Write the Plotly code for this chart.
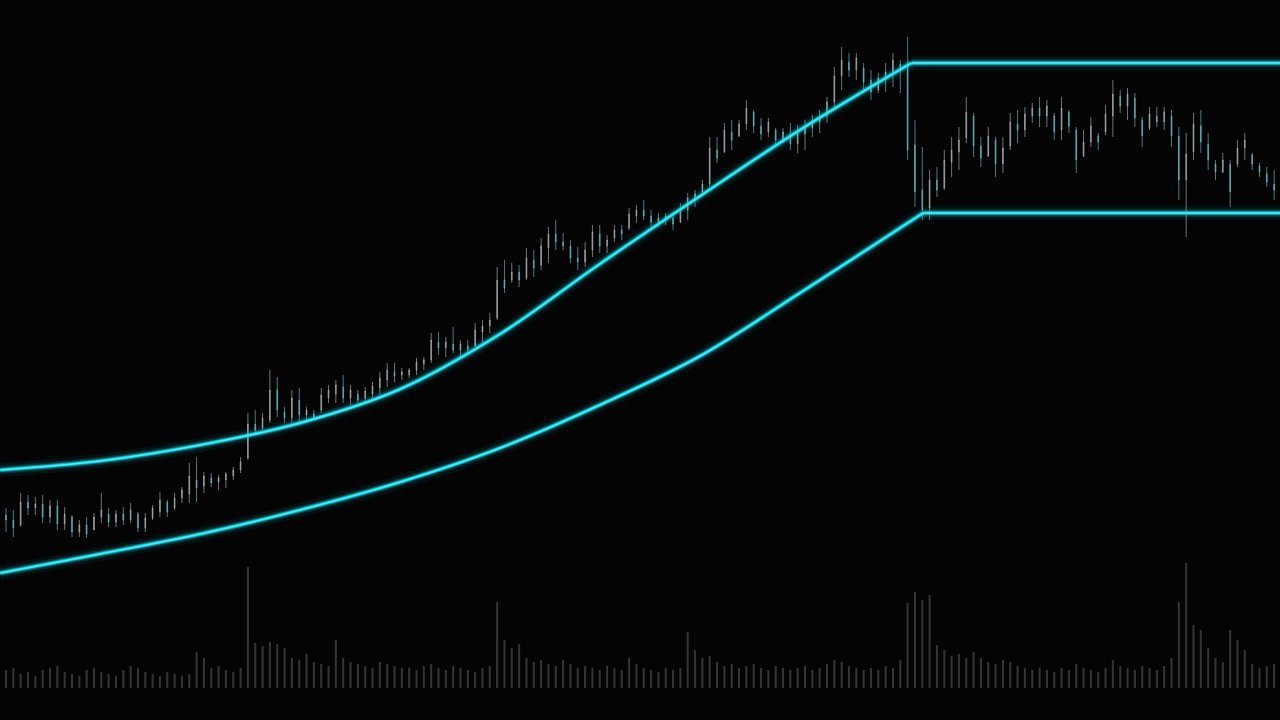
import plotly.graph_objects as go

# ---- price bars (arbitrary price units), one entry per session ----
high = [212,210,227,225,223,225,220,220,213,205,
        200,203,207,227,212,210,213,217,208,207,
        215,228,220,227,233,257,263,248,247,245,
        248,253,263,307,310,307,350,343,313,330,
        332,313,310,332,335,340,345,335,330,333,
        338,348,357,357,352,352,362,363,387,388,
        383,393,380,380,397,400,407,453,460,457,
        455,472,470,482,493,500,487,480,473,478,
        495,495,485,495,495,512,515,520,510,507,
        507,508,517,527,530,540,583,583,597,600,
        600,620,610,602,602,592,592,597,595,600,
        605,610,623,653,673,667,667,657,650,647,
        657,667,660,683,600,573,550,553,570,583,
        593,623,607,583,593,583,583,607,610,613,
        617,623,620,607,623,610,593,590,603,587,
        615,640,630,632,627,603,613,613,613,610,
        593,587,607,610,587,560,567,560,580,587,
        567,557,553,550]
low = [188,183,193,205,205,197,197,190,190,183,
       183,182,190,197,193,193,195,197,188,188,
       200,203,203,210,217,217,218,227,233,230,
       232,240,247,260,287,290,297,303,297,297,
       297,300,300,307,317,317,317,315,317,318,
       320,325,333,338,340,342,345,350,357,365,
       363,367,363,367,373,377,387,400,427,437,
       433,440,443,450,457,470,470,457,450,453,
       463,467,467,478,480,490,497,500,493,493,
       495,490,497,500,513,527,533,557,567,570,
       583,590,587,580,583,575,577,570,567,570,
       583,587,597,613,630,643,640,630,620,627,
       628,633,627,560,513,500,500,523,530,543,
       550,577,563,553,563,543,547,570,577,583,
       597,593,593,580,580,587,547,563,573,570,
       585,583,607,600,593,573,590,593,590,573,
       520,483,560,567,550,540,547,513,553,560,
       550,543,533,520]
open_ = [205,200,195,218,212,216,203,214,196,203,
         188,195,190,203,206,198,206,200,206,192,
         202,208,218,212,222,226,240,234,242,238,
         240,244,250,262,296,292,300,330,308,302,
         320,305,306,310,322,326,333,322,326,322,
         326,332,340,348,345,345,350,356,360,378,
         372,376,370,374,374,388,394,402,440,440,
         448,442,460,455,472,486,478,474,462,458,
         470,486,474,482,490,492,504,510,504,498,
         500,502,498,510,520,528,536,570,568,588,
         584,596,608,594,588,590,580,586,576,586,
         592,598,604,618,644,658,650,652,640,630,
         640,648,656,656,575,530,512,540,532,558,
         568,582,604,574,564,580,556,574,596,590,
         604,612,604,604,590,608,590,564,578,584,
         588,604,624,614,622,600,592,604,598,604,
         584,540,568,594,576,556,548,556,556,572,
         565,554,546,536]
close = [200,192,218,212,216,203,214,196,206,188,
         195,186,203,210,198,206,200,210,192,202,
         212,220,208,222,230,244,232,244,237,242,
         246,250,258,296,290,302,330,310,302,322,
         305,310,303,325,330,335,322,330,320,329,
         334,342,350,344,348,350,358,360,380,372,
         378,370,376,370,390,394,400,440,432,448,
         440,462,452,474,486,478,474,462,458,470,
         488,474,480,490,486,506,510,504,498,502,
         504,496,512,522,526,536,572,562,590,580,
         596,612,594,586,598,580,588,576,588,592,
         600,604,618,644,660,650,662,638,628,642,
         648,660,652,570,528,510,540,530,560,570,
         580,608,574,562,584,556,572,598,590,606,
         612,604,614,588,612,594,560,578,594,578,
         606,626,614,626,602,584,606,598,608,584,
         540,566,596,578,560,548,560,528,572,580,
         556,548,538,530]
volume = [18,20,14,16,12,18,20,22,16,14,12,18,20,16,14,12,18,22,20,16,14,12,16,14,12,14,
          36,30,
          20,22,18,16,20,
          121,
          45,42,46,44,40,30,28,34,26,24,22,
          48,
          30,26,24,22,20,26,24,22,20,
          20,18,22,24,20,18,22,20,18,16,20,22,
          86,
          48,40,44,30,26,28,24,22,28,24,20,22,20,18,22,20,18,30,24,20,18,16,20,18,20,
          56,
          38,30,32,
          26,22,24,20,22,24,20,18,22,20,18,20,22,18,20,24,
          28,26,
          22,20,18,20,18,22,20,28,
          85,96,88,93,
          43,38,32,34,30,36,30,26,24,28,26,22,20,18,20,18,16,20,18,
          24,20,18,16,20,28,22,20,18,22,20,18,22,30,
          86,125,63,58,40,30,26,58,48,38,24,20,22,24]

# ---- channel lines (value at bar index) ----
upper_curve_x = [-0.8, 12.8, 26.5, 40.1, 53.8, 67.4, 81.0, 94.7, 108.3, 123.5]
upper_curve_y = [250, 259, 275, 297, 331, 386, 456, 524, 590, 657]
upper_flat_x = [123.5, 175]
upper_flat_y = [657, 657]
lower_curve_x = [-0.8, 12.8, 26.5, 40.1, 53.8, 67.4, 81.0, 94.7, 108.3, 125.1]
lower_curve_y = [147, 166, 186, 210, 238, 272, 315, 364, 427, 507]
lower_flat_x = [125.1, 175]
lower_flat_y = [507, 507]

n = min(len(high), len(low), len(open_), len(close), len(volume))
idx = list(range(n))

fig = go.Figure()

fig.add_trace(go.Bar(
    x=idx, y=volume[:n], yaxis="y2", width=0.28,
    marker=dict(color="rgba(72,72,72,0.7)", line=dict(width=0)),
    hoverinfo="skip", showlegend=False))

fig.add_trace(go.Candlestick(
    x=idx, open=open_[:n], high=high[:n], low=low[:n], close=close[:n],
    increasing=dict(line=dict(color="rgba(175,185,186,0.62)", width=1),
                    fillcolor="rgba(195,205,205,0.7)"),
    decreasing=dict(line=dict(color="rgba(105,200,208,0.62)", width=1),
                    fillcolor="rgba(120,210,218,0.7)"),
    whiskerwidth=0, hoverinfo="skip", showlegend=False))

glow_layers = [(14, "rgba(0,200,225,0.07)"), (8, "rgba(0,210,230,0.16)"),
               (4.5, "rgba(10,215,232,0.55)"), (2.6, "#19dbe8"), (0.9, "rgba(180,250,255,0.55)")]

for xs, ys, shape in [(upper_curve_x, upper_curve_y, "spline"),
                      (upper_flat_x, upper_flat_y, "linear"),
                      (lower_curve_x, lower_curve_y, "spline"),
                      (lower_flat_x, lower_flat_y, "linear")]:
    for w, c in glow_layers:
        fig.add_trace(go.Scatter(
            x=xs, y=ys, mode="lines",
            line=dict(color=c, width=w, shape=shape, smoothing=1.0),
            hoverinfo="skip", showlegend=False))

axis_off = dict(showgrid=False, zeroline=False, showticklabels=False,
                showline=False, ticks="")
fig.update_layout(
    width=1280, height=720,
    margin=dict(l=0, r=0, t=0, b=0),
    paper_bgcolor="#040404", plot_bgcolor="#040404",
    boxgap=0.85,
    xaxis=dict(range=[-0.82, 173.8], rangeslider=dict(visible=False), **axis_off),
    yaxis=dict(range=[0, 720], **axis_off),
    yaxis2=dict(range=[-32, 688], overlaying="y", **axis_off),
    showlegend=False, hovermode=False,
)

fig.write_html("out.html", config={"displayModeBar": False},
               post_script="document.body.style.margin='0';document.body.style.overflow='hidden';")
